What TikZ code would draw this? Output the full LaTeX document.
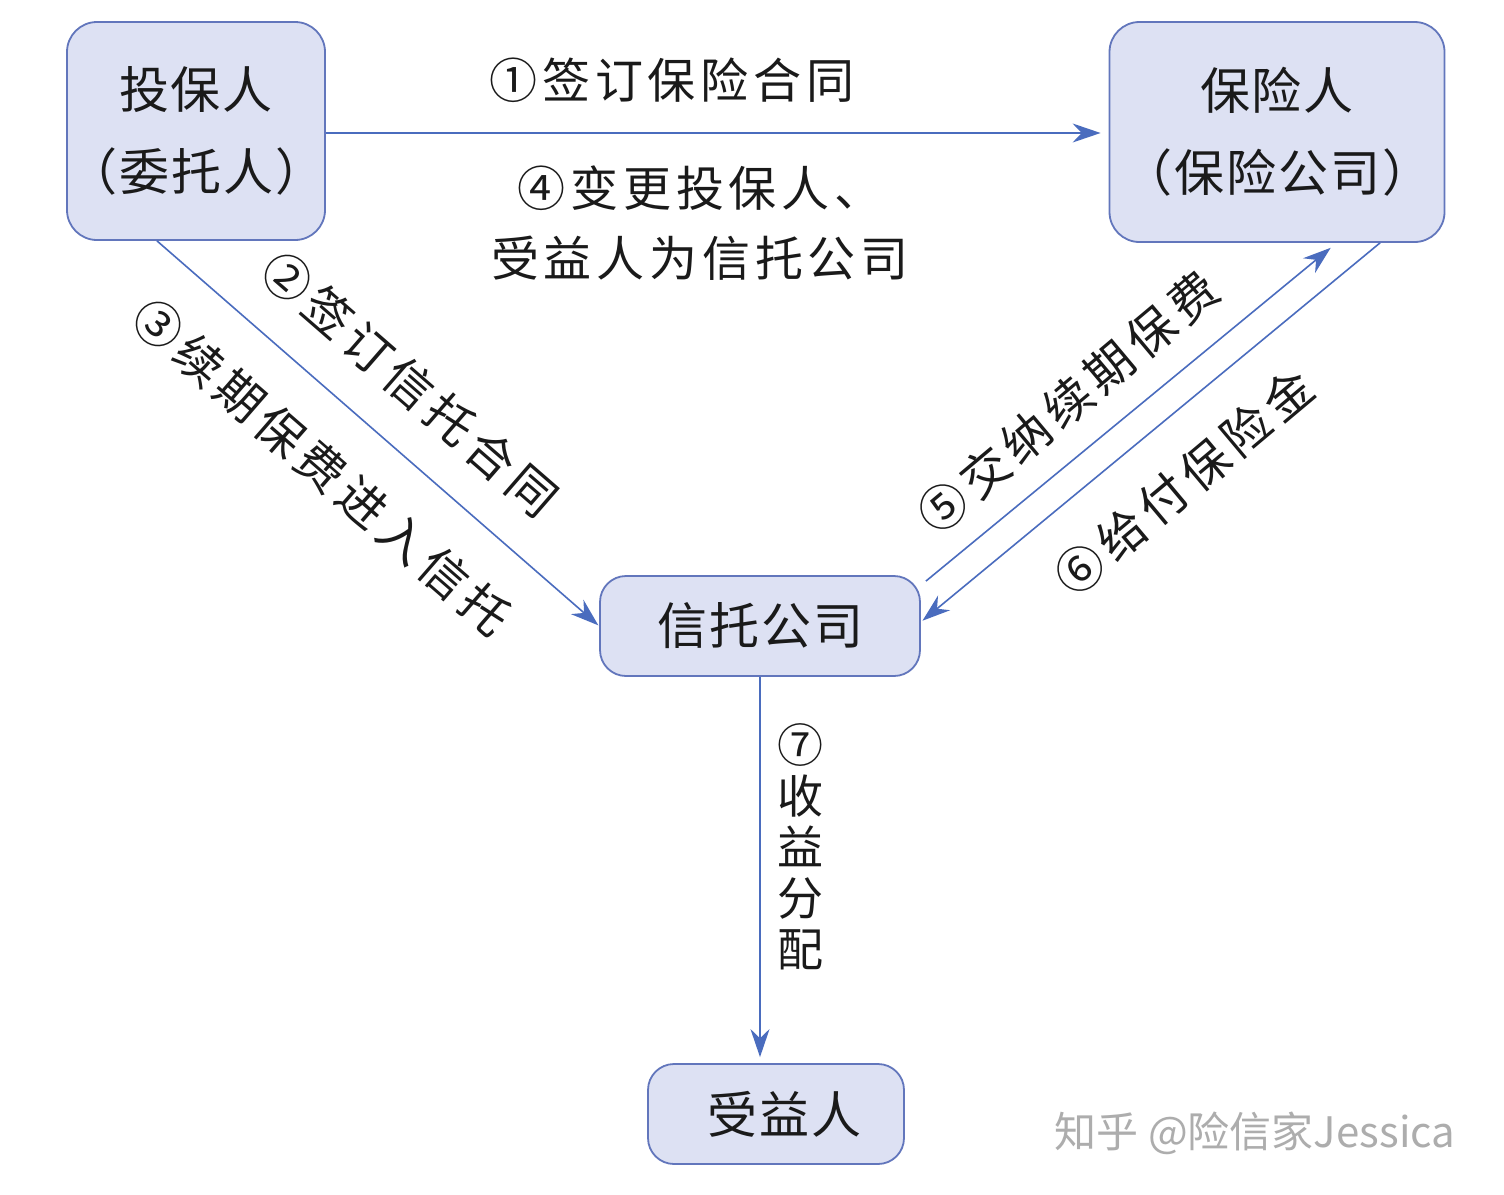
\documentclass[tikz,border=0pt]{standalone}
\usepackage{fontspec}
\setmainfont{Noto Sans CJK SC}
\newfontfamily\cjk{Noto Sans CJK SC}
\newfontfamily\cjksp[LetterSpace=10]{Noto Sans CJK SC}
\newfontfamily\cjkwide[LetterSpace=13]{Noto Sans CJK SC}
\newfontfamily\cjkbox[LetterSpace=4]{Noto Sans CJK SC}
\usetikzlibrary{arrows.meta}
\definecolor{boxfill}{HTML}{DDE1F3}
\definecolor{boxline}{HTML}{6276BC}
\definecolor{arr}{HTML}{4A6CBE}
\definecolor{ink}{HTML}{1A1A1A}
\tikzset{
  party/.style={draw=boxline, line width=1.8pt, fill=boxfill, rounded corners=30pt,
    text=ink, font=\cjkbox\fontsize{50}{82}\selectfont, align=center, inner sep=0pt},
  flow/.style={draw=arr, line width=1.6pt, -{Stealth[length=28pt,width=19pt]}},
  lbl/.style={text=ink, font=\cjksp\fontsize{48}{70}\selectfont, align=center, inner sep=0pt},
  rlbl/.style={text=ink, font=\cjkwide\fontsize{48}{70}\selectfont, inner sep=0pt},
}
\begin{document}
\begin{tikzpicture}[x=1pt,y=-1pt]
\useasboundingbox (0,0) rectangle (1504,1194);
\fill[white] (0,0) rectangle (1504,1194);
\node[party, minimum width=258pt, minimum height=218pt] (tb) at (196,131) {投保人\\（委托人）};
\node[party, minimum width=335pt, minimum height=220pt] (bx) at (1277,132) {保险人\\（保险公司）};
\node[party, minimum width=320pt, minimum height=100pt, rounded corners=26pt] (xt) at (760,626) {信托公司};
\node[party, minimum width=256pt, minimum height=100pt, rounded corners=26pt] (sy) at (776,1114) {\hspace*{16pt}受益人};

\draw[flow, shorten >=8pt] (tb.east |- 0,133) -- (bx.west |- 0,133);
\draw[flow, shorten >=1pt] ([xshift=-39pt]tb.south) -- (xt.west);
\draw[flow, shorten >=3pt] ([xshift=5pt,yshift=-6pt]xt.north east) -- ([xshift=56pt,yshift=-3pt]bx.south);
\draw[flow, shorten >=2pt] ([xshift=103pt]bx.south) -- ([yshift=4pt]xt.east);
\draw[flow, shorten >=6pt] (xt.south) -- (xt.south |- sy.north);

\node[lbl] (l1) at (672,80) {①签订保险合同};
\node[lbl] (l4) at (700,223) {④变更投保人、\\受益人为信托公司};
\node[rlbl, rotate=-41] (l2) at (410,384) {②签订信托合同};
\node[rlbl, rotate=-41] (l3) at (322,467) {③续期保费进入信托};
\node[rlbl, rotate=40] (l5) at (1068,402) {⑤交纳续期保费};
\node[rlbl, rotate=40] (l6) at (1184,482) {⑥给付保险金};
\node[lbl, font=\cjk\fontsize{46}{51}\selectfont] (l7) at (800,847) {⑦\\收\\益\\分\\配};

\node[text=black!32, font=\cjk\fontsize{42}{50}\selectfont, inner sep=0pt] (wm) at (1255,1133) {知乎 @险信家Jessica};
\end{tikzpicture}
\end{document}
